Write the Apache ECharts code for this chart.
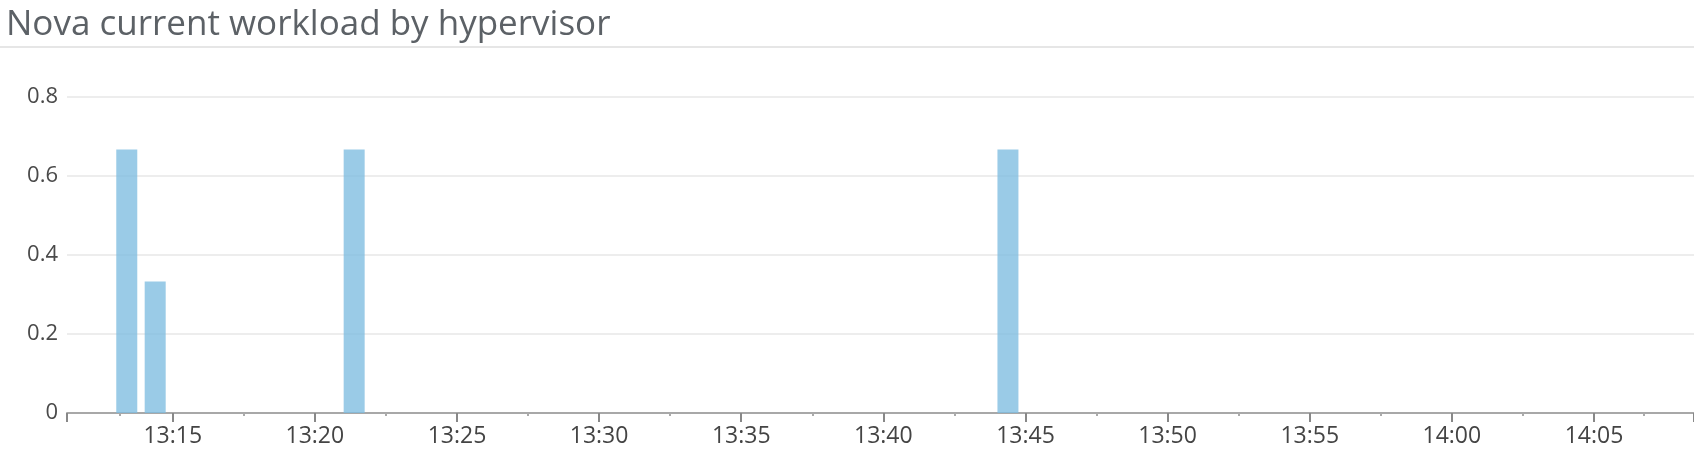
<!DOCTYPE html>
<html>
<head>
<meta charset="utf-8">
<script src="https://cdn.jsdelivr.net/npm/echarts@6/dist/echarts.min.js"></script>
<style>
  html, body { margin: 0; padding: 0; background: #fff; }
  #chart { width: 1694px; height: 459px; }
</style>
</head>
<body>
<div id="chart"></div>
<script>
// data
const day = '2016-05-10T';
const barTimes = ['13:13:23', '13:14:23', '13:21:23', '13:44:23'];
const barValues = [0.667, 0.333, 0.667, 0.667];
// bar series widen the time extent by half a bar each side, so these sit a bit inside
const axisStart = '13:11:39';
const axisEnd = '14:08:09';
const yTicks = [0, 0.2, 0.4, 0.6, 0.8];

const toTime = t => new Date(day + t).getTime();

const chart = echarts.init(document.getElementById('chart'));

chart.setOption({
    animation: false,
    title: {
        text: 'Nova current workload by hypervisor',
        left: 6,
        top: 8,
        padding: 0,
        textStyle: {
            fontFamily: 'Open Sans',
            fontSize: 35,
            fontWeight: 'normal',
            color: '#5c6166'
        }
    },
    graphic: [{
        type: 'line',
        shape: {x1: 0, y1: 47, x2: 1694, y2: 47},
        style: {stroke: '#e6e6e6', lineWidth: 2}
    }],
    grid: {
        left: 67,
        right: 0,
        top: 97,
        bottom: 46
    },
    xAxis: {
        type: 'time',
        min: toTime(axisStart),
        max: toTime(axisEnd),
        splitNumber: 10,
        axisLine: {lineStyle: {color: '#a8a8a8', width: 2}},
        axisTick: {show: true, length: 9, lineStyle: {color: '#888', width: 2}},
        minorTick: {show: true, splitNumber: 2, length: 3, lineStyle: {color: '#aaa', width: 2}},
        splitLine: {show: false},
        axisLabel: {
            formatter: '{HH}:{mm}',
            showMinLabel: false,
            showMaxLabel: false,
            margin: 12,
            fontFamily: 'Open Sans',
            fontSize: 23,
            color: '#444'
        }
    },
    yAxis: {
        type: 'value',
        min: yTicks[0],
        max: yTicks[yTicks.length - 1],
        interval: 0.2,
        axisLine: {show: false},
        axisTick: {show: false},
        splitLine: {lineStyle: {color: '#ededed', width: 2}},
        axisLabel: {
            margin: 9,
            fontFamily: 'Open Sans',
            fontSize: 22,
            color: '#4a4a4a'
        }
    },
    series: [{
        name: 'workload',
        type: 'bar',
        barWidth: 21,
        itemStyle: {color: 'rgba(125,189,224,0.78)'},
        data: barTimes.map((t, i) => [toTime(t), barValues[i]])
    }]
});
</script>
</body>
</html>
